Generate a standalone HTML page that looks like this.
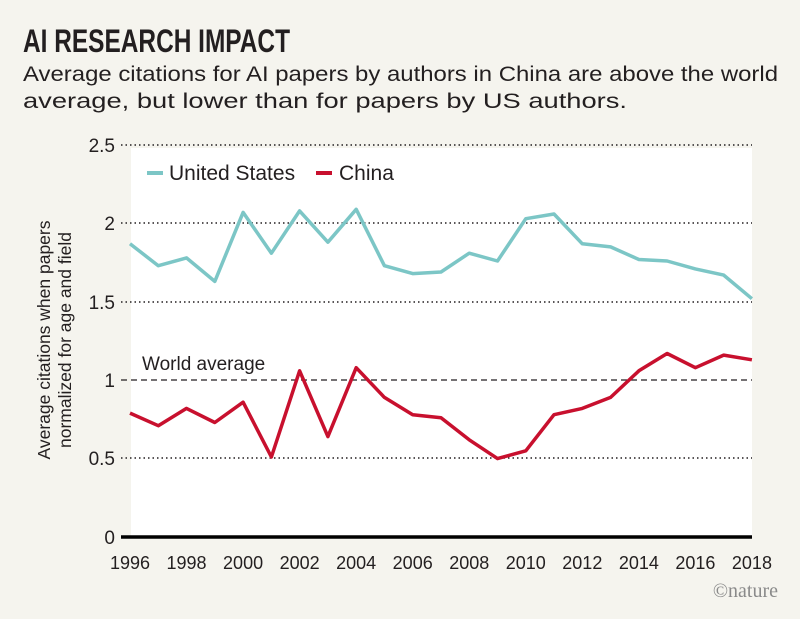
<!DOCTYPE html>
<html><head><meta charset="utf-8"><style>
body{margin:0;background:#f5f4ee;}
svg{display:block;font-family:"Liberation Sans",sans-serif;}
</style></head><body>
<svg id="s" width="800" height="619" viewBox="0 0 800 619">
<rect width="800" height="619" fill="#f5f4ee"/>
<text x="23" y="52" font-size="32" font-weight="bold" fill="#231f20" textLength="267" lengthAdjust="spacingAndGlyphs">AI RESEARCH IMPACT</text>
<text x="23" y="81" font-size="21" fill="#231f20" textLength="755" lengthAdjust="spacingAndGlyphs">Average citations for AI papers by authors in China are above the world</text>
<text x="23" y="108" font-size="21" fill="#231f20" textLength="604" lengthAdjust="spacingAndGlyphs">average, but lower than for papers by US authors.</text>
<rect x="131" y="148" width="621" height="389" fill="#fff"/>
<g stroke="#231f20" stroke-width="1.5" stroke-dasharray="1.5,3">
<line x1="121" x2="752" y1="145" y2="145"/>
<line x1="121" x2="752" y1="223" y2="223"/>
<line x1="121" x2="752" y1="302" y2="302"/>
<line x1="121" x2="752" y1="458" y2="458"/>
</g>
<line x1="121" x2="752" y1="380" y2="380" stroke="#231f20" stroke-width="1.3" stroke-dasharray="6,4"/>
<line x1="121" x2="752" y1="537" y2="537" stroke="#000" stroke-width="3.5"/>
<g font-size="19" fill="#231f20" text-anchor="end">
<text x="115" y="152">2.5</text><text x="115" y="230">2</text><text x="115" y="309">1.5</text>
<text x="115" y="387">1</text><text x="115" y="465">0.5</text><text x="115" y="544">0</text>
</g>
<text x="142" y="370" font-size="19" fill="#231f20">World average</text>
<g id="xl" font-size="18" fill="#231f20" text-anchor="middle"></g>
<text transform="translate(50,340) rotate(-90)" font-size="17.5" fill="#231f20" text-anchor="middle">Average citations when papers</text>
<text transform="translate(71,340) rotate(-90)" font-size="17.5" fill="#231f20" text-anchor="middle">normalized for age and field</text>
<line x1="147" x2="163" y1="173" y2="173" stroke="#7cc6c6" stroke-width="4"/>
<text x="169" y="180" font-size="21" fill="#231f20">United States</text>
<line x1="316" x2="332" y1="173" y2="173" stroke="#c8102e" stroke-width="4"/>
<text x="339" y="180" font-size="21" fill="#231f20">China</text>
<polyline id="us" fill="none" stroke="#7cc6c6" stroke-width="3.5" stroke-linejoin="round"/>
<polyline id="cn" fill="none" stroke="#c8102e" stroke-width="3.5" stroke-linejoin="round"/>
<text x="778" y="597" font-size="20" fill="#8a8a8a" text-anchor="end" font-family="Liberation Serif,serif">©nature</text>
</svg>
<script>
var us=[1.87,1.73,1.78,1.63,2.07,1.81,2.08,1.88,2.09,1.73,1.68,1.69,1.81,1.76,2.03,2.06,1.87,1.85,1.77,1.76,1.71,1.67,1.52];
var cn=[0.79,0.71,0.82,0.73,0.86,0.51,1.06,0.64,1.08,0.89,0.78,0.76,0.62,0.50,0.55,0.78,0.82,0.89,1.06,1.17,1.08,1.16,1.13];
function p(a){return a.map(function(v,i){return (130+i*28.27).toFixed(1)+","+(537-v*156.8).toFixed(1)}).join(" ")}
document.getElementById("us").setAttribute("points",p(us));
document.getElementById("cn").setAttribute("points",p(cn));
var g=document.getElementById("xl"),h="";
for(var y=1996;y<=2018;y+=2){h+='<text x="'+(130+(y-1996)*28.27)+'" y="569">'+y+'</text>';}
g.innerHTML=h;
</script>
</body></html>
